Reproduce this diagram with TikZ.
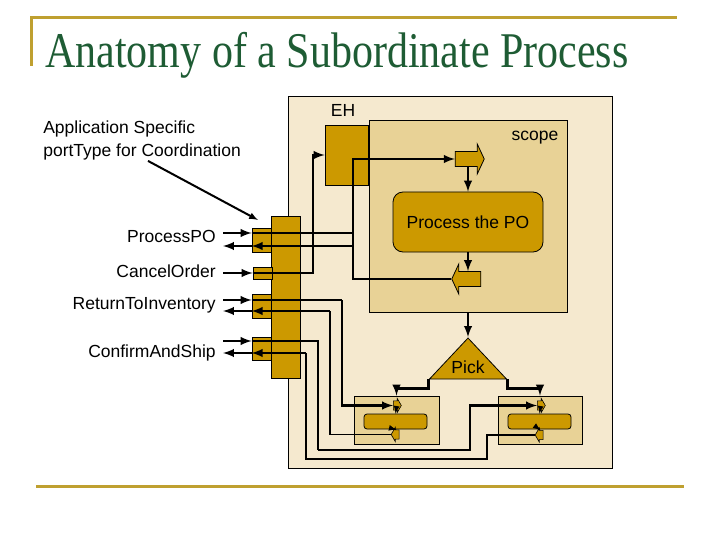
\documentclass[tikz,border=0pt]{standalone}
\usepackage{fontspec}
\setmainfont{Liberation Serif}
\setsansfont{Liberation Sans}
\usetikzlibrary{arrows, shapes.arrows, shapes.geometric, positioning}

\definecolor{gold}{HTML}{CC9900}
\definecolor{scopefill}{HTML}{E8D296}
\definecolor{subfill}{HTML}{F5E9CF}
\definecolor{rulegold}{HTML}{BFA030}
\definecolor{titlegreen}{HTML}{1E5C34}

\begin{document}
\begin{tikzpicture}[
        x = 1pt, y = -1pt, % slide pixels, y grows downwards
        > = latex, % arrow head style
        semithick % line style
    ]

    \tikzstyle{every node}=[font = \sffamily\fontsize{17.5}{21}\selectfont]
    \tikzstyle{rule}=[draw = rulegold, line width = 3pt]
    \tikzstyle{title}=[inner sep = 0pt, text = titlegreen, font = \rmfamily\fontsize{50}{50}\selectfont]
    \tikzstyle{portlabel}=[inner sep = 0pt, anchor = base east]
    \tikzstyle{subbox}=[rectangle, draw = black, line width = 0.8pt, fill = subfill, inner sep = 0pt]
    \tikzstyle{scopebox}=[rectangle, draw = black, line width = 0.8pt, fill = scopefill, inner sep = 0pt]
    \tikzstyle{goldbox}=[rectangle, draw = black, line width = 0.8pt, fill = gold, inner sep = 0pt]
    \tikzstyle{activity}=[goldbox, rounded corners = 10pt]
    \tikzstyle{smallact}=[goldbox, rounded corners = 3pt, minimum width = 63, minimum height = 15]
    \tikzstyle{recvarrow}=[single arrow, draw = black, line width = 0.8pt, fill = gold, inner sep = 0pt,
        inner ysep = 7pt, single arrow head extend = 7.5pt, single arrow tip angle = 130,
        minimum width = 30, minimum height = 29]
    \tikzstyle{replyarrow}=[recvarrow, shape border rotate = 180]
    \tikzstyle{smallrecv}=[single arrow, draw = black, line width = 0.6pt, fill = gold, inner sep = 0pt,
        inner ysep = 2.5pt, single arrow head extend = 1.5pt, single arrow tip angle = 120,
        minimum width = 14, minimum height = 8]
    \tikzstyle{smallreply}=[smallrecv, shape border rotate = 180]
    \tikzstyle{pickshape}=[isosceles triangle, shape border rotate = 90, isosceles triangle stretches,
        draw = black, line width = 0.8pt, fill = gold, inner sep = 0pt,
        minimum width = 77, minimum height = 41]
    \tikzstyle{wire}=[line width = 2.7pt]
    \tikzstyle{thinwire}=[line width = 1.2pt]
    \tikzstyle{portarrow}=[wire, shorten < = 7pt]

    \useasboundingbox (0,0) rectangle (720,540);

    % slide frame and title
    \draw[rule] (30,18) -- (677,18);
    \draw[rule] (31,18) -- (31,66);
    \draw[rule] (36,486) -- (684,486);
    \node[title, anchor = base west] (title) at (45,68) {\scalebox{0.84}[1]{Anatomy of a Subordinate Process}};

    % subordinate process, event handler and scope
    \node[subbox, minimum width = 324, minimum height = 372] (sub) at (450,282) {};
    \node (ehlabel) at (343,110) {EH};
    \node[scopebox, minimum width = 198, minimum height = 192] (scope) at (468,216) {};
    \node[goldbox, minimum width = 43, minimum height = 60] (eh) at (346.5,155) {};
    \node[anchor = base] (scopelabel) at (535,141) {scope};

    \node[recvarrow] (recv) at (468,159) {};
    \node[activity, minimum width = 150, minimum height = 60] (po) at (468,222) {Process the PO};
    \node[replyarrow] (reply) at (468,279) {};

    \node[pickshape, anchor = apex] (pick) at (468,337) {};
    \node (picklabel) at (468,367) {Pick};

    % the two branches of the pick
    \node[scopebox, minimum width = 85, minimum height = 48] (brA) at (396.5,420) {};
    \node[smallrecv] (recvA) at (396,405.5) {};
    \node[smallact] (actA) at (395.5,421.5) {};
    \node[smallreply] (replyA) at (396.5,434.5) {};

    \node[scopebox, minimum width = 84, minimum height = 48] (brB) at (540,420) {};
    \node[smallrecv] (recvB) at (540,405.5) {};
    \node[smallact] (actB) at (539.5,421.5) {};
    \node[smallreply] (replyB) at (540.5,435) {};

    % portType
    \node[goldbox, minimum width = 29, minimum height = 162] (bar) at (285.5,297) {};
    \node[goldbox, minimum width = 19, minimum height = 24] (pPO) at (261.5,240) {};
    \node[goldbox, minimum width = 19, minimum height = 12] (pCO) at (262.5,273) {};
    \node[goldbox, minimum width = 19, minimum height = 24] (pRI) at (261.5,306) {};
    \node[goldbox, minimum width = 19, minimum height = 23] (pCS) at (261.5,348.5) {};

    \node[portlabel] (lPO) at (216,243) {ProcessPO};
    \node[portlabel] (lCO) at (216,277) {CancelOrder};
    \node[portlabel] (lRI) at (216,309) {ReturnToInventory};
    \node[portlabel] (lCS) at (216,357) {ConfirmAndShip};

    \node[inner sep = 0pt, anchor = north west, align = left, font = \sffamily\fontsize{17.5}{23}\selectfont]
        (note) at (43,121) {Application Specific\\portType for Coordination};
    \coordinate (ptype) at (258,220);
    \draw[line width = 2pt, ->] (note.south -| 148,0) -- (ptype);

    % operations at the port
    \draw[portarrow, ->] (lPO.east |- 0,233) -- (pPO.west |- 0,233);
    \draw[portarrow, <-] (lPO.east |- 0,246) -- (pPO.west |- 0,246);
    \draw[portarrow, ->] (lCO.east |- 0,273) -- (pCO.west |- 0,273);
    \draw[portarrow, ->] (lRI.east |- 0,300) -- (pRI.west |- 0,300);
    \draw[portarrow, <-] (lRI.east |- 0,311) -- (pRI.west |- 0,311);
    \draw[portarrow, ->] (lCS.east |- 0,341) -- (pCS.west |- 0,341);
    \draw[portarrow, <-] (lCS.east |- 0,353) -- (pCS.west |- 0,353);

    % wiring inside the process
    \draw[wire, ->] (pPO.west |- 0,233) -- (353,233) |- (recv.tail);
    \draw[wire, ->] (reply.tip) -| (353,233) |- (pPO.west |- 0,246);
    \draw[wire, ->] (pCO.west |- 0,273) -- (313,273) |- (eh.west |- 0,155);

    \draw[wire, ->] (recv.south) -- (po.north);
    \draw[wire, ->] (po.south) -- (reply.north);
    \draw[wire, ->] (scope.south) -- (pick.apex);
    \draw[wire, ->] (pick.left corner) -- ++(0,9) -| (brA.north);
    \draw[wire, ->] (pick.right corner) -- ++(0,9) -| (brB.north);

    \draw[line width = 1.6pt, ->] (recvA.south) -- (actA.north);
    \draw[line width = 1.6pt, ->] (actA.south) -- (replyA.north);
    \draw[line width = 1.6pt, ->] (recvB.south) -- (actB.north);
    \draw[line width = 1.6pt, ->] (actB.south) -- (replyB.north);

    \coordinate (j4) at (342,300);
    \draw[thinwire] (pRI.west |- j4) -- (j4);
    \draw[wire, ->] (j4) |- (recvA.tail);

    \coordinate (j5) at (330,311);
    \draw[thinwire] (replyA.tip) -| (j5);
    \draw[wire, ->] (j5) -- (pRI.west |- j5);

    \coordinate (j6) at (318,450);
    \draw[thinwire] (pCS.west |- 0,341) -| (j6);
    \draw[wire, ->] (j6) -- (470,450) |- (recvB.tail);

    \coordinate (j7) at (306,353);
    \draw[thinwire] (replyB.tip) -| (487,459) -| (j7);
    \draw[wire, ->] (j7) -- (pCS.west |- j7);

\end{tikzpicture}
\end{document}
